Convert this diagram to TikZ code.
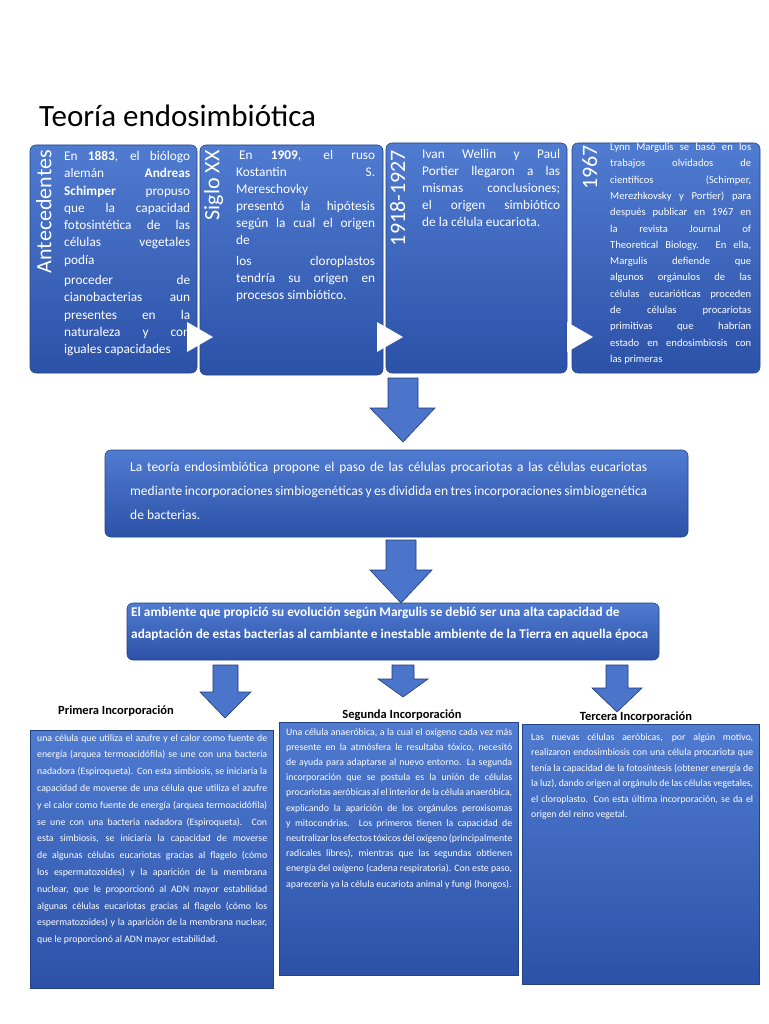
\documentclass[tikz,border=0pt]{standalone}
\usepackage{fontspec}
\setmainfont{Carlito}
\usetikzlibrary{shapes.geometric}
\definecolor{bA}{HTML}{4F7BD0}
\definecolor{bB}{HTML}{2C52A8}
\newcommand{\nohy}{\hyphenpenalty=10000\exhyphenpenalty=10000\emergencystretch=3em\hbadness=10000\relax}
\begin{document}
\begin{tikzpicture}[x=1pt,y=-1pt,
 box/.style={rounded corners=6pt,top color=bA,bottom color=bB,draw=bB!80!black,line width=0.6pt},
 sbox/.style={top color=bA,bottom color=bB,draw=bB!80!black,line width=0.6pt},
 tri/.style={fill=white,draw=none},
 darr/.style={fill=bA!85!bB,draw=bB!70!black,line width=0.6pt},
 txt/.style={text=white,anchor=north west,inner sep=0pt,align=justify},
 vlab/.style={text=white,rotate=90,anchor=north east,inner sep=0pt,font=\fontsize{22}{22}\selectfont},
 hlab/.style={font=\bfseries\fontsize{12.5}{14}\selectfont,inner sep=0pt}]
\useasboundingbox (0,0) rectangle (768,1024);
\fill[white] (0,0) rectangle (768,1024);
\node[anchor=west,inner sep=0pt,font=\fontsize{31}{32}\selectfont] (title) at (39,116) {Teoría endosimbiótica};
% top boxes
\path[box] (30,145) rectangle (197,373);
\path[box] (200,145) rectangle (383,375);
\path[box] (386,143) rectangle (567,373);
\path[box] (572,143) rectangle (760,373);
\node[vlab] (l1) at (36,150) {Antecedentes};
\node[vlab] (l2) at (204,150) {Siglo XX};
\node[vlab] (l3) at (390,150) {1918-1927};
\node[vlab] (l4) at (582,145) {1967};
\node[txt,font=\fontsize{13.3}{17.3}\selectfont] (t1) at (64,151) {\parbox{126pt}{\nohy\setlength{\parskip}{3pt}En \textbf{1883}, el biólogo\linebreak alemán \textbf{Andreas}\linebreak \textbf{Schimper} propuso\linebreak que la capacidad\linebreak fotosintética de las\linebreak células vegetales\linebreak podía\par proceder de\linebreak cianobacterias aun\linebreak presentes en la\linebreak naturaleza y con\linebreak iguales capacidades}};
\node[txt,font=\fontsize{13.3}{17}\selectfont] (t2) at (236,150) {\parbox{139pt}{\nohy\setlength{\parskip}{4pt}\hspace{3pt}En \textbf{1909}, el ruso\linebreak Kostantin S.\linebreak Mereschovky\newline presentó la hipótesis\linebreak según la cual el origen\linebreak de\par los cloroplastos\linebreak tendría su origen en\linebreak procesos simbiótico.}};
\node[txt,font=\fontsize{13.3}{17}\selectfont] (t3) at (422,149) {\parbox{138pt}{\nohy Ivan Wellin y Paul\linebreak Portier llegaron a las\linebreak mismas conclusiones;\linebreak el origen simbiótico\linebreak de la célula eucariota.}};
\node[txt,font=\fontsize{10.6}{16.3}\selectfont] (t4) at (610,143) {\parbox{141pt}{\nohy Lynn Margulis se basó en los\linebreak trabajos olvidados de\linebreak científicos (Schimper,\linebreak Merezhkovsky y Portier) para\linebreak después publicar en 1967 en\linebreak la revista Journal of\linebreak Theoretical Biology. En ella,\linebreak Margulis defiende que\linebreak algunos orgánulos de las\linebreak células eucarióticas proceden\linebreak de células procariotas\linebreak primitivas que habrían\linebreak estado en endosimbiosis con\linebreak las primeras}};
\path[tri] (187,322) -- (213,337) -- (187,352) -- cycle;
\path[tri] (377,322) -- (403,337) -- (377,352) -- cycle;
\path[tri] (567,322) -- (593,337) -- (567,352) -- cycle;
% arrow 1
\path[darr] (388,378) -- (418,378) -- (418,408) -- (435,408) -- (403,442) -- (370,408) -- (388,408) -- cycle;
\path[box] (105,450) rectangle (688,537);
\node[txt,font=\fontsize{13.5}{24}\selectfont] (m1) at (130,462) {\parbox{517pt}{\nohy La teoría endosimbiótica propone el paso de las células procariotas a las células eucariotas mediante incorporaciones simbiogenéticas y es dividida en tres incorporaciones simbiogenética de bacterias.}};
\path[darr] (386,540) -- (416,540) -- (416,570) -- (432,570) -- (401,603) -- (370,570) -- (386,570) -- cycle;
\path[box] (127,603) rectangle (659,660);
\node[txt,font=\bfseries\fontsize{13.3}{22}\selectfont] (m2) at (131,607) {\parbox{524pt}{\raggedright El ambiente que propició su evolución según Margulis se debió ser una alta capacidad de adaptación de estas bacterias al cambiante e inestable ambiente de la Tierra en aquella época}};
% small arrows
\path[darr] (213,665) -- (238,665) -- (238,692) -- (251,692) -- (225,718) -- (200,692) -- (213,692) -- cycle;
\path[darr] (392,665) -- (414,665) -- (414,679) -- (428,679) -- (403,697) -- (378,679) -- (392,679) -- cycle;
\path[darr] (606,665) -- (628,665) -- (628,688) -- (642,688) -- (617,712) -- (592,688) -- (606,688) -- cycle;
\node[hlab] (h1) at (116,711) {Primera Incorporación};
\node[hlab] (h2) at (402,715) {Segunda Incorporación};
\node[hlab] (h3) at (636,717) {Tercera Incorporación};
% bottom boxes
\path[sbox] (30,730) rectangle (273,988);
\path[sbox] (279,722) rectangle (518,975);
\path[sbox] (522,724) rectangle (759,984);
\node[txt,font=\fontsize{9.8}{16.8}\selectfont] (b1) at (37,734) {\parbox{230pt}{\nohy una célula que utiliza el azufre y el calor como fuente de energía (arquea termoacidófila) se une con una bacteria nadadora (Espiroqueta). Con esta simbiosis, se iniciaría la capacidad de moverse de una célula que utiliza el azufre y el calor como fuente de energía (arquea termoacidófila) se une con una bacteria nadadora (Espiroqueta). Con esta simbiosis, se iniciaría la capacidad de moverse de algunas células eucariotas gracias al flagelo (cómo los espermatozoides) y la aparición de la membrana nuclear, que le proporcionó al ADN mayor estabilidad algunas células eucariotas gracias al flagelo (cómo los espermatozoides) y la aparición de la membrana nuclear, que le proporcionó al ADN mayor estabilidad.}};
\node[txt,font=\fontsize{9.8}{15.2}\selectfont] (b2) at (286,728) {\parbox{226pt}{\nohy Una célula anaeróbica, a la cual el oxígeno cada vez más presente en la atmósfera le resultaba tóxico, necesitó de ayuda para adaptarse al nuevo entorno. La segunda incorporación que se postula es la unión de células procariotas aeróbicas al el interior de la célula anaeróbica, explicando la aparición de los orgánulos peroxisomas y mitocondrias. Los primeros tienen la capacidad de neutralizar los efectos tóxicos del oxígeno (principalmente radicales libres), mientras que las segundas obtienen energía del oxígeno (cadena respiratoria). Con este paso, aparecería ya la célula eucariota animal y fungi (hongos).}};
\node[txt,font=\fontsize{9.8}{15.5}\selectfont] (b3) at (531,733) {\parbox{222pt}{\nohy Las nuevas células aeróbicas, por algún motivo, realizaron endosimbiosis con una célula procariota que tenía la capacidad de la fotosíntesis (obtener energía de la luz), dando origen al orgánulo de las células vegetales, el cloroplasto. Con esta última incorporación, se da el origen del reino vegetal.}};
\end{tikzpicture}
\end{document}
